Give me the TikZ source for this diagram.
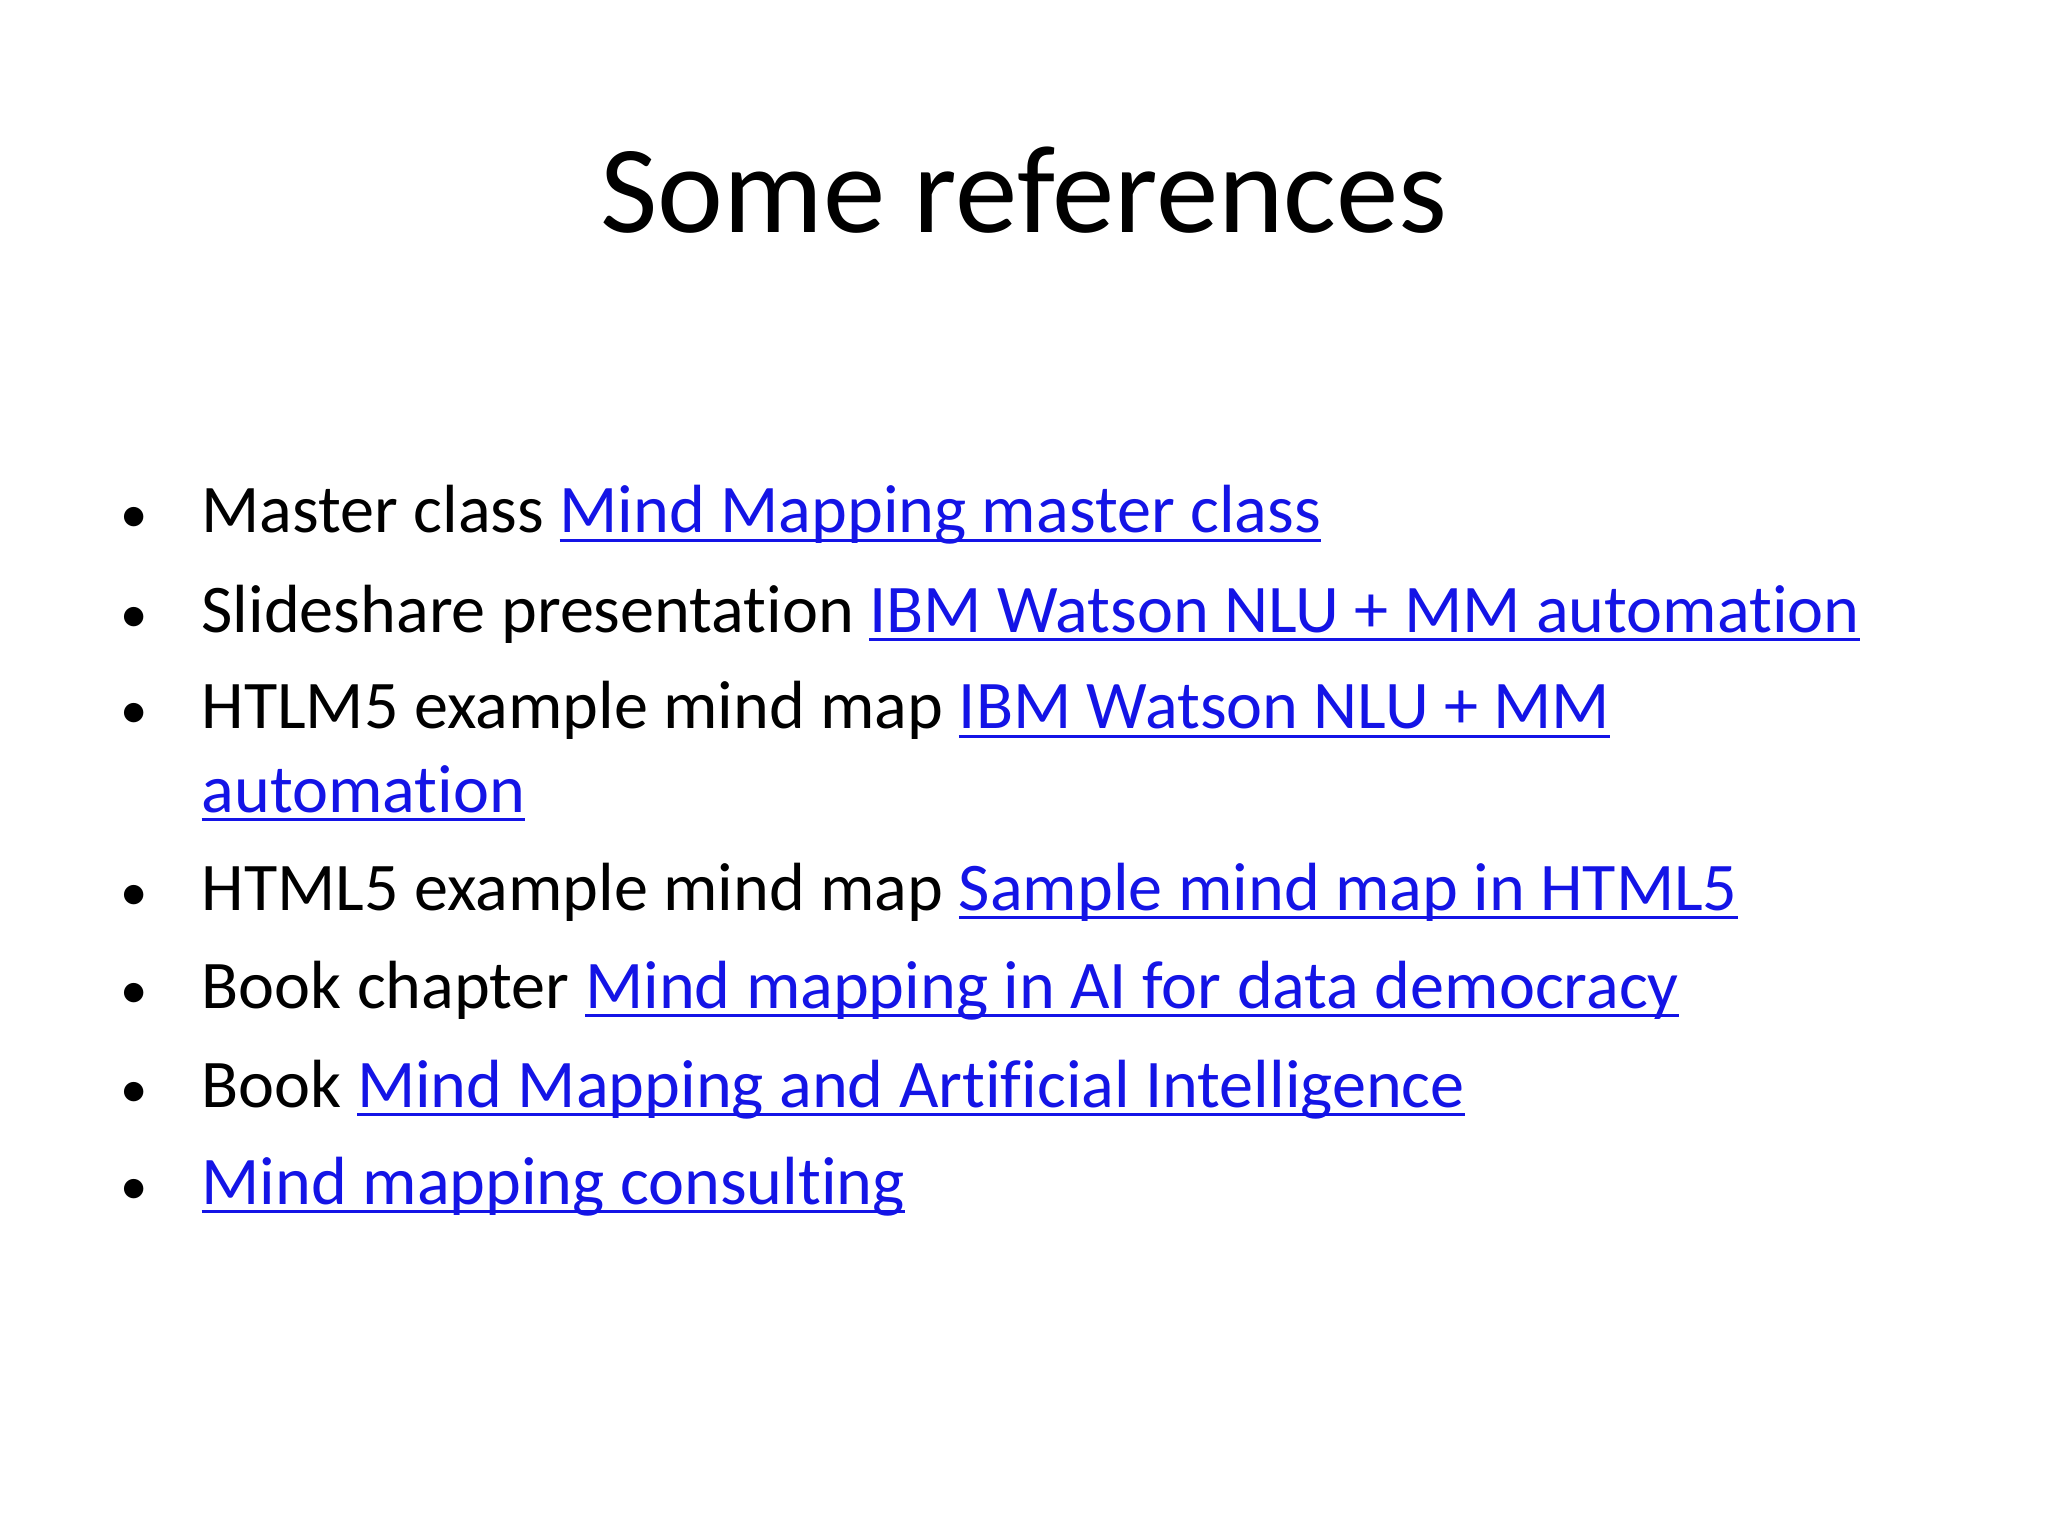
\documentclass[tikz,border=0pt]{standalone}
\usepackage{fontspec}
\setmainfont[Ligatures={NoCommon}]{Carlito}
\definecolor{linkblue}{RGB}{20,20,230}
\newcommand{\lnk}[1]{{\color{linkblue}\setbox0\hbox{#1}\rlap{\rule[-3.4pt]{\wd0}{1.2pt}}\box0}}
\begin{document}
\begin{tikzpicture}[x=0.5pt,y=-0.5pt,
  item/.style={anchor=base west,inner sep=0pt,font=\fontsize{26.1}{31}\selectfont},
  bul/.style={anchor=base,inner sep=0pt,font=\fontsize{21}{26}\selectfont}]
\useasboundingbox[fill=white] (0,0) rectangle (1568,1176);
\node[anchor=base,inner sep=0pt,font=\fontsize{47.8}{56}\selectfont] (title) at (784,178) {Some references};
\foreach \y [count=\i] in {408,484,558,697,772,848,922}{
  \node[bul] (b\i) at (103,\y) {•};
}
\node[item] (t1) at (154,408) {Master class \lnk{Mind Mapping master class}};
\node[item] (t2) at (154,484) {Slideshare presentation \lnk{IBM Watson NLU + MM automation}};
\node[item] (t3) at (154,558) {HTLM5 example mind map \lnk{IBM Watson NLU + MM}};
\node[item] (t3b) at (154,622) {\lnk{automation}};
\node[item] (t4) at (154,697) {HTML5 example mind map \lnk{Sample mind map in HTML5}};
\node[item] (t5) at (154,772) {Book chapter \lnk{Mind mapping in AI for data democracy}};
\node[item] (t6) at (154,848) {Book \lnk{Mind Mapping and Artificial Intelligence}};
\node[item] (t7) at (154,922) {\lnk{Mind mapping consulting}};
\end{tikzpicture}
\end{document}
